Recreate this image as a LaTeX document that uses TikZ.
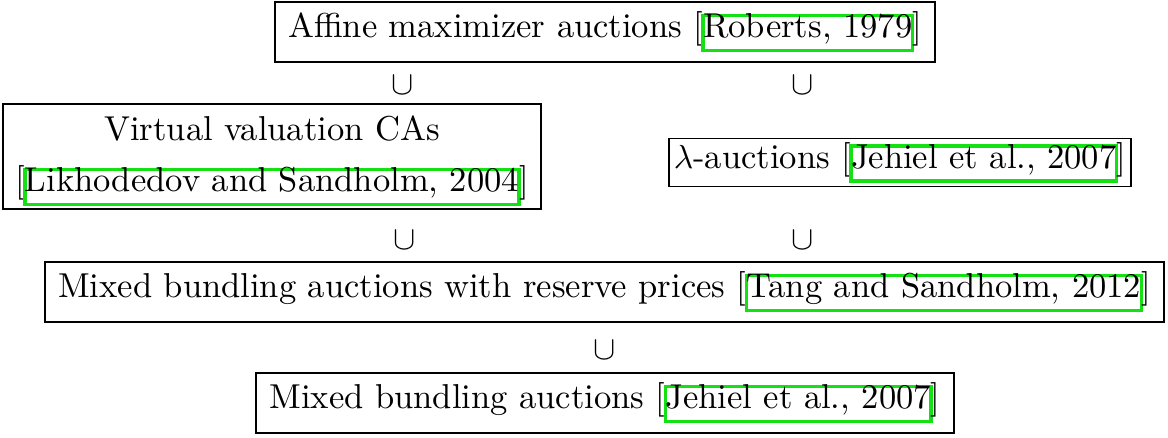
\documentclass[tikz,border=0pt]{standalone}
\usepackage{xcolor}
\definecolor{linkgreen}{RGB}{20,225,20}
\newsavebox\citbox
\newcommand\cit[1]{[\sbox\citbox{#1}%
\rlap{\kern-0.5pt\raisebox{-3.4pt}{\color{linkgreen}\setlength\fboxrule{1pt}\setlength\fboxsep{0pt}\fbox{\rule{0pt}{9.5pt}\rule{\dimexpr\wd\citbox-1pt\relax}{0pt}}}}%
\usebox\citbox]}
\tikzset{
  txt/.style={font=\fontsize{10.37pt}{12.44pt}\selectfont},
  box/.style={txt,draw,line width=0.5pt,inner sep=0pt,align=center},
  cupnode/.style={txt,inner sep=0pt}
}
\begin{document}
\begin{tikzpicture}[x=0.3pt,y=-0.3pt]
\useasboundingbox (0,0) rectangle (1168,437);
\node[box,minimum width=198pt,minimum height=18pt] (am) at (605,32) {Affine maximizer auctions \cit{Roberts, 1979}};
\node[box,minimum width=161.4pt,minimum height=31.5pt] (vv) at (272,156.5) {\rule{0pt}{9.9pt}Virtual valuation CAs\\[2.96pt]\cit{Likhodedov and Sandholm, 2004}};
\node[box,minimum width=138.6pt,minimum height=14.4pt] (la) at (900,162.5) {$\lambda$-auctions \cit{Jehiel et al., 2007}};
\node[box,minimum width=335.7pt,minimum height=18pt] (mr) at (604.5,292) {Mixed bundling auctions with reserve prices \cit{Tang and Sandholm, 2012}};
\node[box,minimum width=209.4pt,minimum height=18pt] (mb) at (605,403) {Mixed bundling auctions \cit{Jehiel et al., 2007}};
\node[cupnode] (c1) at (403,85) {$\cup$};
\node[cupnode] (c2) at (803,85) {$\cup$};
\node[cupnode] (c3) at (405,240) {$\cup$};
\node[cupnode] (c4) at (803,240) {$\cup$};
\node[cupnode] (c5) at (605,350) {$\cup$};
\end{tikzpicture}
\end{document}
